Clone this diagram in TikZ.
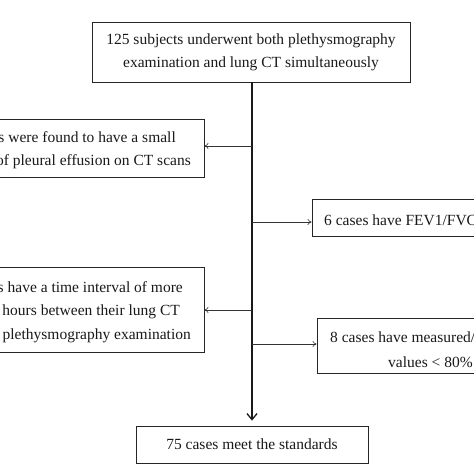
\documentclass[tikz,border=0pt]{standalone}
\usepackage{fontspec}
\setmainfont{Liberation Serif}
\usetikzlibrary{arrows.meta}
\begin{document}
\begin{tikzpicture}[x=1pt,y=-1pt,
  box/.style={draw=black!85,line width=0.8pt,inner sep=0pt},
  txt/.style={inner sep=0pt,font=\fontsize{15.5}{23}\selectfont,text=black!90},
  mainline/.style={draw=black!90,line width=1.3pt},
  branch/.style={draw=black!80,line width=0.6pt,-{To[length=4pt,width=6pt]}}]
\useasboundingbox (0,0) rectangle (474,474);
\clip (0,0) rectangle (474,474);
% boxes
\node[box,minimum width=318pt,minimum height=60pt,align=center,txt] (top) at (251,52)
  {125 subjects underwent both plethysmography\\examination and lung CT simultaneously};
\node[box,minimum width=244pt,minimum height=58pt] (left1) at (82,148) {};
\node[box,minimum width=208pt,minimum height=37pt] (right1) at (416,217.5) {};
\node[box,minimum width=244pt,minimum height=85pt] (left2) at (82,309.5) {};
\node[box,minimum width=203pt,minimum height=55pt] (right2) at (418.5,345.5) {};
\node[box,minimum width=232pt,minimum height=37pt,txt] (bottom) at (252,444.5) {75 cases meet the standards};
% texts
\node[txt,anchor=base east] (l1a) at (176,142.5) {s were found to have a small};
\node[txt,anchor=base east] (l1b) at (191,165.5) {of pleural effusion on CT scans};
\node[txt,anchor=base west] (r1a) at (324,225) {6 cases have FEV1/FVC};
\node[txt,anchor=base east] (l2a) at (183,292.5) {s have a time interval of more};
\node[txt,anchor=base east] (l2b) at (180,315.5) {hours between their lung CT};
\node[txt,anchor=base east] (l2c) at (191,339) {plethysmography examination};
\node[txt,anchor=base west] (r2a) at (330,342.5) {8 cases have measured/};
\node[txt,anchor=base west] (r2b) at (388,367) {values < 80\%};
% connectors
\coordinate (j1) at (252,146);
\coordinate (j2) at (252,222);
\coordinate (j3) at (252,310);
\coordinate (j4) at (252,344);
\draw[mainline,shorten >=5pt,-{Straight Barb[length=6pt,width=10pt]}] (top.south -| bottom.north) -- (bottom.north);
\draw[branch] (j1) -- (j1 -| left1.east);
\draw[branch] (j2) -- (j2 -| right1.west);
\draw[branch] (j3) -- (j3 -| left2.east);
\draw[branch] (j4) -- (j4 -| right2.west);
\end{tikzpicture}
\end{document}
